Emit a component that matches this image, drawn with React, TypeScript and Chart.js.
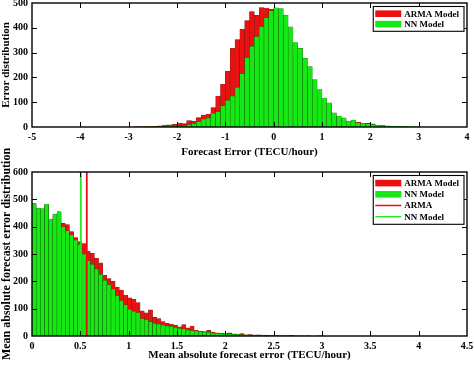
import React, { useEffect, useRef } from 'react';
import { Chart, registerables } from 'chart.js';

Chart.register(...registerables);

const FONT = '"Liberation Serif", "Times New Roman", Times, serif';

// ---------- Top panel: forecast error histogram ----------
const TOP_BIN_CENTERS = [
  -2.95, -2.85, -2.75, -2.65, -2.55, -2.45, -2.35, -2.25, -2.15, -2.05,
  -1.95, -1.85, -1.75, -1.65, -1.55, -1.45, -1.35, -1.25, -1.15, -1.05,
  -0.95, -0.85, -0.75, -0.65, -0.55, -0.45, -0.35, -0.25, -0.15, -0.05,
  0.05, 0.15, 0.25, 0.35, 0.45, 0.55, 0.65, 0.75, 0.85, 0.95,
  1.05, 1.15, 1.25, 1.35, 1.45, 1.55, 1.65, 1.75, 1.85, 1.95,
  2.05, 2.15, 2.25, 2.35, 2.45, 2.55, 2.65, 2.75, 2.85, 2.95,
];
const TOP_ARMA = [
  0, 1, 1, 2, 2, 3, 5, 8, 9, 11,
  16, 14, 26, 24, 38, 48, 52, 78, 125, 172,
  224, 317, 353, 394, 429, 465, 450, 482, 480, 474,
  450, 420, 380, 335, 295, 255, 215, 175, 140, 110,
  85, 65, 45, 36, 30, 20, 22, 19, 12, 15,
  13, 6, 5, 3, 2, 2, 1, 1, 0, 0,
];
const TOP_NN = [
  0, 0, 0, 0, 1, 1, 2, 2, 3, 4,
  5, 6, 10, 14, 22, 32, 36, 55, 62, 85,
  108, 125, 160, 215, 280, 325, 365, 405, 440, 468,
  481, 477, 451, 404, 340, 317, 277, 244, 191, 151,
  117, 97, 57, 44, 37, 24, 28, 17, 15, 13,
  11, 8, 7, 5, 4, 3, 2, 2, 1, 1,
];
const TOP_X_TICKS = [-5, -4, -3, -2, -1, 0, 1, 2, 3, 4];
const TOP_Y_TICKS = [0, 100, 200, 300, 400, 500];

// ---------- Bottom panel: mean absolute forecast error histogram ----------
const BOTTOM_BIN_CENTERS = [
  0.022, 0.065, 0.108, 0.151, 0.194, 0.237, 0.280, 0.323, 0.366, 0.409,
  0.452, 0.495, 0.538, 0.581, 0.624, 0.667, 0.710, 0.753, 0.796, 0.839,
  0.882, 0.925, 0.968, 1.011, 1.054, 1.097, 1.140, 1.183, 1.226, 1.269,
  1.312, 1.355, 1.398, 1.441, 1.484, 1.527, 1.570, 1.613, 1.656, 1.699,
  1.742, 1.785, 1.828, 1.871, 1.914, 1.957, 2.000, 2.043, 2.086, 2.129,
  2.172, 2.215, 2.258, 2.301, 2.344, 2.387, 2.430, 2.473, 2.516, 2.559,
  2.602, 2.645, 2.688, 2.731, 2.774, 2.817, 2.860, 2.903, 2.946, 2.989,
];
const BOTTOM_ARMA = [
  478, 460, 458, 475, 420, 440, 450, 412, 408, 382,
  360, 345, 338, 310, 302, 285, 268, 222, 210, 200,
  178, 168, 150, 140, 134, 122, 92, 85, 96, 68,
  64, 53, 47, 44, 40, 34, 42, 30, 36, 22,
  18, 16, 21, 14, 12, 10, 9, 12, 8, 7,
  9, 4, 5, 3, 4, 2, 3, 1, 2, 1,
  1, 1, 2, 0, 1, 0, 1, 0, 0, 1,
];
const BOTTOM_NN = [
  485, 468, 466, 483, 428, 445, 455, 400, 385, 370,
  351, 335, 300, 276, 262, 245, 226, 204, 188, 172,
  148, 130, 114, 98, 90, 86, 64, 60, 52, 46,
  44, 40, 36, 35, 32, 28, 26, 22, 20, 18,
  16, 14, 13, 11, 10, 9, 8, 7, 6, 6,
  5, 4, 4, 3, 3, 3, 2, 2, 2, 1,
  1, 1, 1, 1, 0, 1, 0, 0, 1, 0,
];
const ARMA_MEAN = 0.567;
const NN_MEAN = 0.505;
const BOTTOM_X_TICKS = [0, 0.5, 1, 1.5, 2, 2.5, 3, 3.5, 4, 4.5];
const BOTTOM_Y_TICKS = [0, 100, 200, 300, 400, 500, 600];

const RED = 'rgb(236, 16, 16)';
const RED_EDGE = 'rgba(110, 0, 0, 0.85)';
const GREEN = 'rgb(22, 232, 22)';
const GREEN_EDGE = 'rgba(0, 95, 0, 0.85)';
const LINE_GREEN = 'rgb(40, 230, 40)';

const framePlugin = {
  id: 'matlabFrame',
  afterDatasetsDraw(chart: any, _args: any, opts: any) {
    const { ctx, chartArea: a, scales } = chart;
    ctx.save();
    // inward tick marks on all four sides
    const L = 5;
    ctx.strokeStyle = '#000';
    ctx.lineWidth = 1;
    ctx.beginPath();
    for (const v of opts.xTicks) {
      const x = Math.round(scales.x.getPixelForValue(v)) + 0.5;
      if (x <= a.left + 1 || x >= a.right - 1) continue;
      ctx.moveTo(x, a.bottom);
      ctx.lineTo(x, a.bottom - L);
      ctx.moveTo(x, a.top);
      ctx.lineTo(x, a.top + L);
    }
    for (const v of opts.yTicks) {
      const y = Math.round(scales.y.getPixelForValue(v)) + 0.5;
      if (y <= a.top + 1 || y >= a.bottom - 1) continue;
      ctx.moveTo(a.left, y);
      ctx.lineTo(a.left + L, y);
      ctx.moveTo(a.right, y);
      ctx.lineTo(a.right - L, y);
    }
    ctx.stroke();
    // frame
    ctx.lineWidth = 1.4;
    ctx.strokeRect(a.left, a.top, a.right - a.left, a.bottom - a.top);

    // legend box (MATLAB style, north-east)
    const items = opts.legend as { kind: string; color: string; text: string }[];
    ctx.font = `bold 9px ${FONT}`;
    const rowH = opts.rowH;
    const textW = Math.max(...items.map((i) => ctx.measureText(i.text).width));
    const w = 31 + textW + 5;
    const h = items.length * rowH + 4;
    const right = a.right - 3;
    const top = a.top + 3.5;
    const left = right - w;
    ctx.fillStyle = '#fff';
    ctx.fillRect(left, top, w, h);
    ctx.lineWidth = 1.1;
    ctx.strokeStyle = '#000';
    ctx.strokeRect(left, top, w, h);
    items.forEach((it, k) => {
      const cy = top + 2 + rowH * (k + 0.5);
      if (it.kind === 'box') {
        ctx.fillStyle = it.color;
        ctx.fillRect(left + 2, cy - 3.3, 26, 6.6);
      } else {
        ctx.strokeStyle = it.color;
        ctx.lineWidth = 1.5;
        ctx.beginPath();
        ctx.moveTo(left + 2, cy);
        ctx.lineTo(left + 28, cy);
        ctx.stroke();
      }
      ctx.fillStyle = '#000';
      ctx.textBaseline = 'middle';
      ctx.textAlign = 'left';
      ctx.fillText(it.text, left + 31, cy + 0.5);
    });
    ctx.restore();
  },
};

function makeScales(cfg: {
  xMin: number; xMax: number; yMin: number; yMax: number;
  xTicks: number[]; yTicks: number[];
  xTitle: string; yTitle: string; yTitleSize: number;
  xAxisH: number; xTitlePadBottom: number;
}) {
  const tickFont = { family: FONT, size: 10, weight: 'bold' as const };
  return {
    x: {
      type: 'linear' as const,
      min: cfg.xMin,
      max: cfg.xMax,
      offset: false,
      grid: { display: false, drawTicks: false, offset: false },
      border: { display: false },
      afterBuildTicks: (s: any) => {
        s.ticks = cfg.xTicks.map((v) => ({ value: v }));
      },
      afterFit: (s: any) => {
        s.height = cfg.xAxisH;
        s.paddingLeft = 0;
        s.paddingRight = 0;
      },
      ticks: {
        padding: 4,
        font: tickFont,
        color: '#000',
        maxRotation: 0,
        autoSkip: false,
        callback: (v: any) => String(v),
      },
      title: {
        display: true,
        text: cfg.xTitle,
        color: '#000',
        font: { family: FONT, size: 11, weight: 'bold' as const },
        padding: { top: 0, bottom: cfg.xTitlePadBottom },
      },
    },
    y: {
      min: cfg.yMin,
      max: cfg.yMax,
      grid: { display: false, drawTicks: false },
      border: { display: false },
      afterBuildTicks: (s: any) => {
        s.ticks = cfg.yTicks.map((v) => ({ value: v }));
      },
      afterFit: (s: any) => {
        s.width = 32;
        s.paddingTop = 0;
        s.paddingBottom = 0;
      },
      ticks: {
        padding: 4,
        font: tickFont,
        color: '#000',
        autoSkip: false,
        callback: (v: any) => String(v),
      },
      title: {
        display: true,
        text: cfg.yTitle,
        color: '#000',
        font: { family: FONT, size: cfg.yTitleSize, weight: 'bold' as const, lineHeight: 1.1 },
        padding: { top: 0, bottom: 0 },
      },
    },
  };
}

function barDataset(label: string, xs: number[], ys: number[], fill: string, edge: string, order: number) {
  return {
    type: 'bar' as const,
    label,
    data: xs.map((x, i) => ({ x, y: ys[i] })),
    backgroundColor: fill,
    borderColor: edge,
    borderWidth: 0.5,
    barPercentage: 1,
    categoryPercentage: 1,
    grouped: false,
    order,
  };
}

function TopChart() {
  const ref = useRef<HTMLCanvasElement | null>(null);
  useEffect(() => {
    if (!ref.current) return;
    const chart = new Chart(ref.current, {
      type: 'bar',
      data: {
        datasets: [
          barDataset('NN Model', TOP_BIN_CENTERS, TOP_NN, GREEN, GREEN_EDGE, 1) as any,
          barDataset('ARMA Model', TOP_BIN_CENTERS, TOP_ARMA, RED, RED_EDGE, 2) as any,
        ],
      },
      options: {
        animation: false,
        responsive: false,
        maintainAspectRatio: false,
        layout: { padding: { top: 3, right: 7, left: 0, bottom: 0 } },
        plugins: {
          legend: { display: false },
          tooltip: { enabled: false },
          matlabFrame: {
            xTicks: TOP_X_TICKS,
            yTicks: TOP_Y_TICKS,
            rowH: 10.4,
            legend: [
              { kind: 'box', color: RED, text: 'ARMA Model' },
              { kind: 'box', color: GREEN, text: 'NN Model' },
            ],
          },
        } as any,
        scales: makeScales({
          xMin: -5, xMax: 4, yMin: 0, yMax: 500,
          xTicks: TOP_X_TICKS, yTicks: TOP_Y_TICKS,
          xTitle: 'Forecast Error (TECU/hour)', yTitle: 'Error distribution', yTitleSize: 11,
          xAxisH: 33, xTitlePadBottom: 1.4,
        }) as any,
      },
      plugins: [framePlugin],
    });
    return () => chart.destroy();
  }, []);
  return (
    <canvas
      ref={ref}
      width={474}
      height={160}
      style={{ position: 'absolute', left: 0, top: 0, width: 474, height: 160, display: 'block' }}
    />
  );
}

function BottomChart() {
  const ref = useRef<HTMLCanvasElement | null>(null);
  useEffect(() => {
    if (!ref.current) return;
    const chart = new Chart(ref.current, {
      type: 'bar',
      data: {
        datasets: [
          {
            type: 'line',
            label: 'ARMA',
            data: [{ x: ARMA_MEAN, y: 0 }, { x: ARMA_MEAN, y: 600 }],
            borderColor: RED,
            borderWidth: 1.8,
            pointRadius: 0,
            order: 0,
          } as any,
          {
            type: 'line',
            label: 'NN Model',
            data: [{ x: NN_MEAN, y: 0 }, { x: NN_MEAN, y: 600 }],
            borderColor: LINE_GREEN,
            borderWidth: 1.8,
            pointRadius: 0,
            order: 0,
          } as any,
          barDataset('NN Model', BOTTOM_BIN_CENTERS, BOTTOM_NN, GREEN, GREEN_EDGE, 1) as any,
          barDataset('ARMA Model', BOTTOM_BIN_CENTERS, BOTTOM_ARMA, RED, RED_EDGE, 2) as any,
        ],
      },
      options: {
        animation: false,
        responsive: false,
        maintainAspectRatio: false,
        layout: { padding: { top: 32, right: 7, left: 0, bottom: 0 } },
        plugins: {
          legend: { display: false },
          tooltip: { enabled: false },
          matlabFrame: {
            xTicks: BOTTOM_X_TICKS,
            yTicks: BOTTOM_Y_TICKS,
            rowH: 11.2,
            legend: [
              { kind: 'box', color: RED, text: 'ARMA Model' },
              { kind: 'box', color: GREEN, text: 'NN Model' },
              { kind: 'line', color: RED, text: 'ARMA' },
              { kind: 'line', color: LINE_GREEN, text: 'NN Model' },
            ],
          },
        } as any,
        scales: makeScales({
          xMin: 0, xMax: 4.5, yMin: 0, yMax: 600,
          xTicks: BOTTOM_X_TICKS, yTicks: BOTTOM_Y_TICKS,
          xTitle: 'Mean absolute forecast error (TECU/hour)',
          yTitle: 'Mean absolute forecast error distribution', yTitleSize: 12,
          xAxisH: 30, xTitlePadBottom: 4.4,
        }) as any,
      },
      plugins: [framePlugin],
    });
    return () => chart.destroy();
  }, []);
  return (
    <canvas
      ref={ref}
      width={474}
      height={226}
      style={{ position: 'absolute', left: 0, top: 140, width: 474, height: 226, display: 'block' }}
    />
  );
}

export default function App() {
  return (
    <div
      style={{
        position: 'fixed',
        left: 0,
        top: 0,
        width: 474,
        height: 366,
        background: '#fff',
        overflow: 'hidden',
      }}
    >
      <TopChart />
      <BottomChart />
    </div>
  );
}
